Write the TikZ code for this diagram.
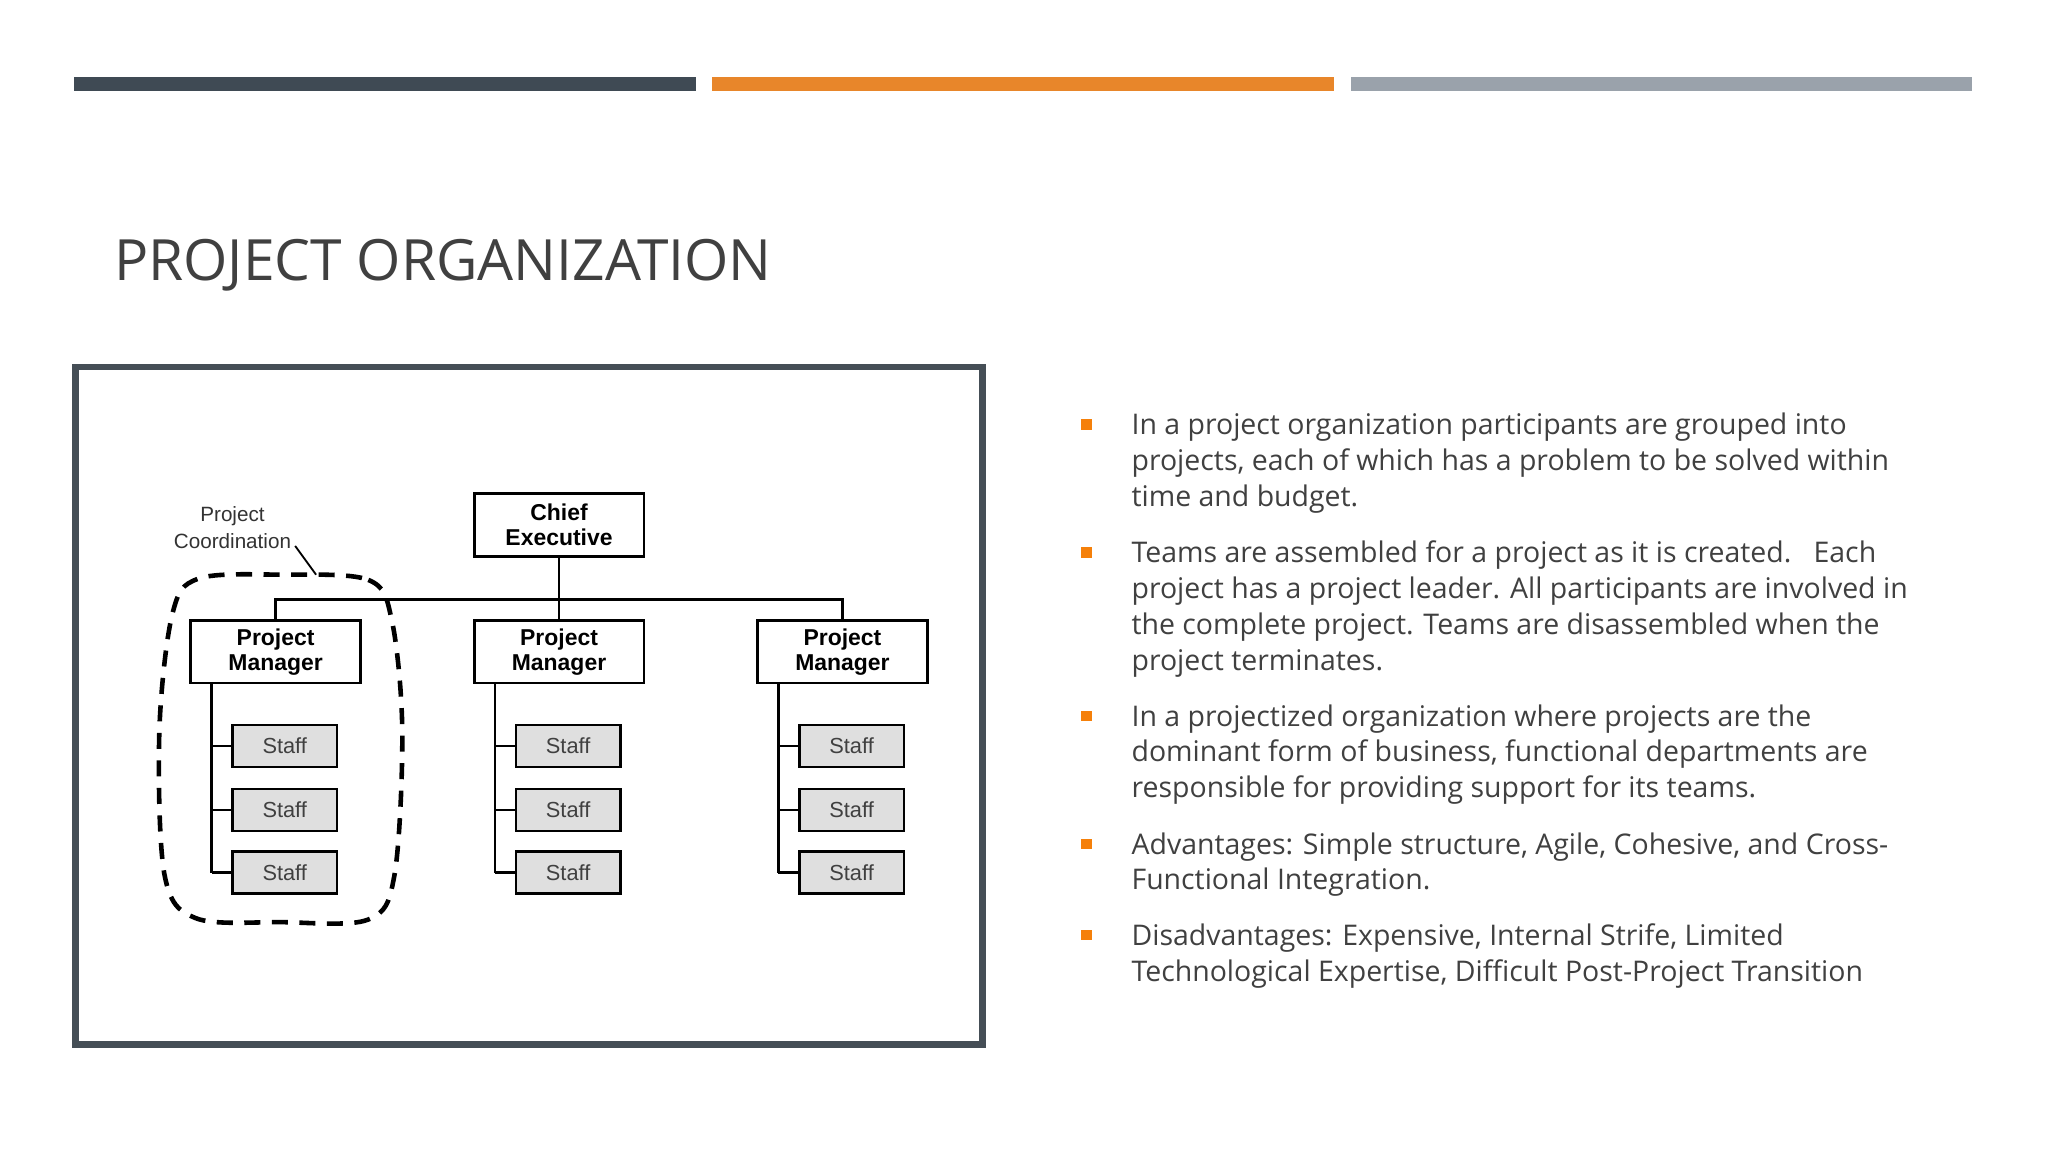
\documentclass[tikz,border=0pt]{standalone}
\usepackage{fontspec}
\setmainfont{Open Sans}
\newfontfamily\arialf{Liberation Sans}
\begin{document}
\begin{tikzpicture}[x=0.02cm,y=-0.02cm,
  box/.style={draw,line width=1.2pt,fill=white,minimum width=2.6cm,minimum height=0.96cm,inner sep=0pt,align=center,font=\arialf\bfseries\fontsize{10}{11}\selectfont},
  staff/.style={draw,line width=1pt,fill=gray!25,minimum width=1.6cm,minimum height=0.64cm,inner sep=0pt,font=\arialf\fontsize{9.5}{11}\selectfont,text=black!75},
  conn/.style={line width=1pt},
  bul/.style={fill=orange!85!brown,minimum size=0.16cm,inner sep=0pt},
  para/.style={anchor=north west,align=left,inner sep=0pt,font=\fontsize{12.4}{15.6}\selectfont,text=black!75}]
\useasboundingbox (0,0) rectangle (1568,882);
\fill[white] (0,0) rectangle (1568,882);
\fill[fill={rgb,255:red,63;green,74;blue,84}] (57,59) rectangle (533,70);
\fill[fill={rgb,255:red,232;green,134;blue,42}] (545,59) rectangle (1021,70);
\fill[fill={rgb,255:red,154;green,162;blue,171}] (1034,59) rectangle (1510,70);
\node[anchor=west,inner sep=0pt,font=\fontsize{24.8}{28}\selectfont,text=black!75] (title) at (87,203) {PROJECT ORGANIZATION};
\draw[line width=3pt,draw={rgb,255:red,69;green,78;blue,86}] (58,281) rectangle (752,800);
% org chart
\node[box] (ce) at (428,402) {Chief\\Executive};
\foreach \i/\x in {1/211,2/428,3/645}{
  \node[box] (pm\i) at (\x,499) {Project\\Manager};
  \foreach \j/\y in {1/571,2/620,3/668}{
    \node[staff] (s\i\j) at (\x+7,\y) {Staff};
    \draw[conn] (\x-49,\y) -- (s\i\j.west);
  }
  \draw[conn] (\x-49,523) -- (\x-49,668);
}
\draw[conn] (ce.south) -- (428,459) coordinate (hub);
\draw[conn] (pm1.north) |- (hub) -| (pm3.north);
\draw[conn] (hub) -- (pm2.north);
\draw[line width=2pt,dash pattern=on 7pt off 5pt] plot[smooth cycle,tension=0.55] coordinates {(215,440) (282,444) (300,475) (308,560) (302,670) (282,704) (215,706) (150,703) (126,670) (122,560) (132,470) (152,443)};
\node[align=center,inner sep=0pt,font=\arialf\fontsize{9}{11.5}\selectfont,text=black!80] (pc) at (178,404) {Project\\Coordination};
\draw[line width=0.8pt] (226,418) -- (242,440);
% bullets
\foreach \y in {325,423,548,646,716} \node[bul] at (832,\y) {};
\node[para] at (866,316) {In a project organization participants are grouped into\\projects, each of which has a problem to be solved within\\time and budget.};
\node[para] at (866,414) {Teams are assembled for a project as it is created.\ \ \ Each\\project has a project leader. All participants are involved in\\the complete project. Teams are disassembled when the\\project terminates.};
\node[para] at (866,539) {In a projectized organization where projects are the\\dominant form of business, functional departments are\\responsible for providing support for its teams.};
\node[para] at (866,637) {Advantages: Simple structure, Agile, Cohesive, and Cross-\\Functional Integration.};
\node[para] at (866,707) {Disadvantages: Expensive, Internal Strife, Limited\\Technological Expertise, Difficult Post-Project Transition};
\end{tikzpicture}
\end{document}
